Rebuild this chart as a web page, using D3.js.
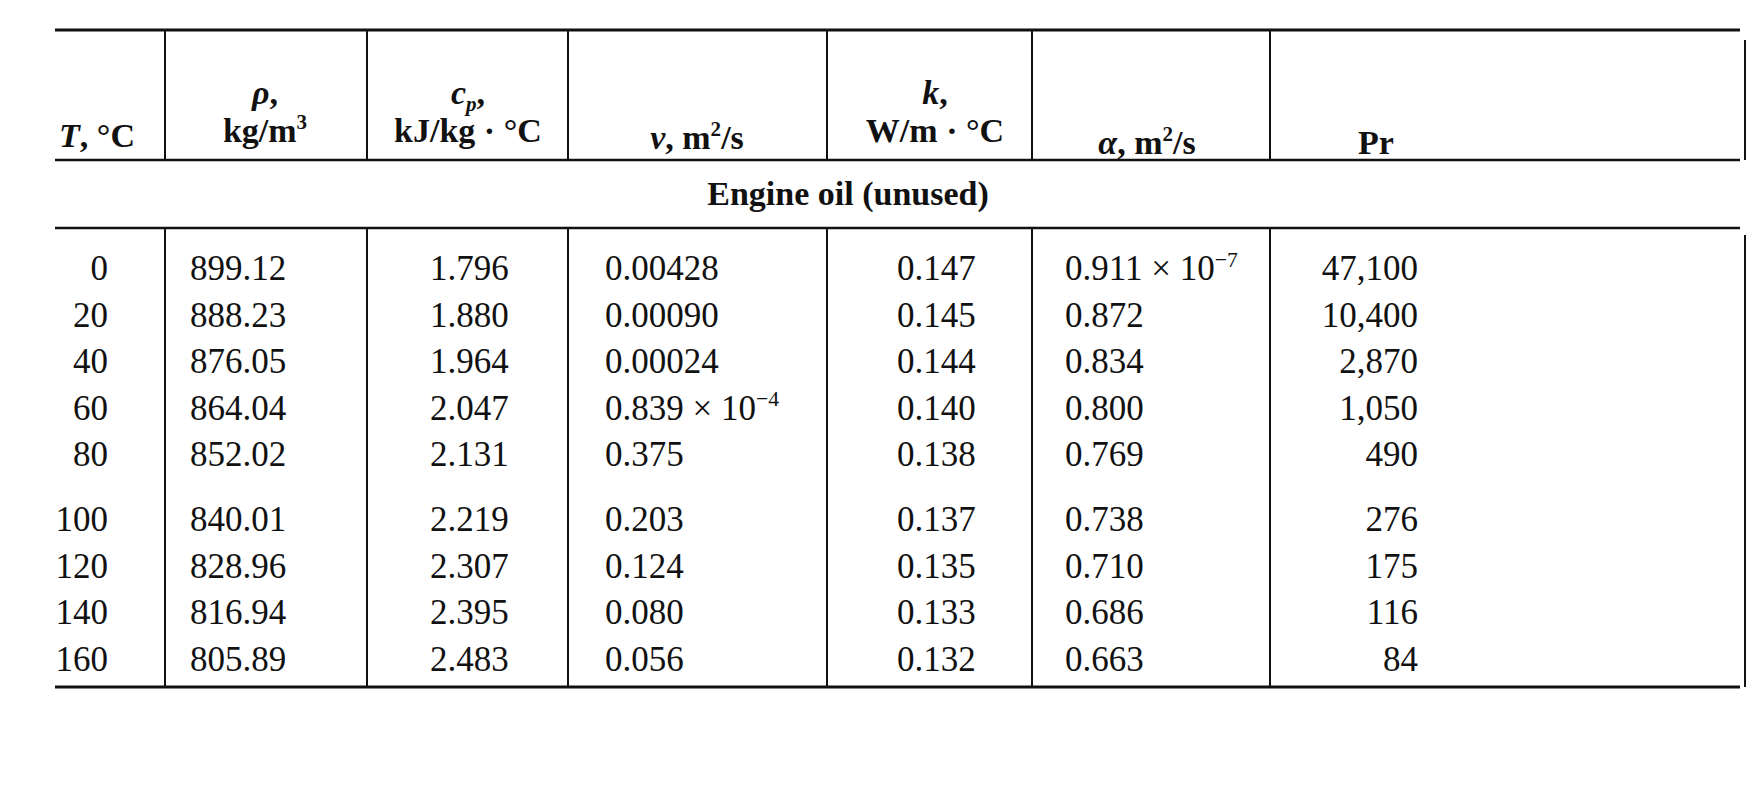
<!DOCTYPE html>
<html><head><meta charset="utf-8">
<script src="https://cdn.jsdelivr.net/npm/d3@7"></script>
<style>body{margin:0;background:#fff}svg{font-family:"Liberation Serif","DejaVu Serif",serif}</style>
</head><body><svg id="c" width="1759" height="803"></svg>
<script>
const temps=["0","20","40","60","80","100","120","140","160"];
const rho=["899.12","888.23","876.05","864.04","852.02","840.01","828.96","816.94","805.89"];
const cp=["1.796","1.880","1.964","2.047","2.131","2.219","2.307","2.395","2.483"];
const nu=[["0.00428"],["0.00090"],["0.00024"],["0.839 × 10","−4"],["0.375"],["0.203"],["0.124"],["0.080"],["0.056"]];
const kval=["0.147","0.145","0.144","0.140","0.138","0.137","0.135","0.133","0.132"];
const alpha=[["0.911 × 10","−7"],["0.872"],["0.834"],["0.800"],["0.769"],["0.738"],["0.710"],["0.686"],["0.663"]];
const pr=["47,100","10,400","2,870","1,050","490","276","175","116","84"];
const sectionTitle="Engine oil (unused)";

const svg=d3.select("#c");
const ink="#111";
const y=d3.scaleLinear().domain([0,1]).range([280,326.5]);
const rowY=i=>y(i+(i>=5?0.4:0));
const fs=35;

const hl=[[55,1740,30,3],[55,1740,160,2.5],[55,1740,228,2.5],[55,1740,687,3]];
hl.forEach(([a,b,yy,w])=>svg.append("line").attr("x1",a).attr("x2",b).attr("y1",yy).attr("y2",yy).attr("stroke",ink).attr("stroke-width",w));
const vx=[165,367,568,827,1032,1270,1745];
vx.forEach(x=>{
  svg.append("line").attr("x1",x).attr("x2",x).attr("y1",x===1745?40:30).attr("y2",160).attr("stroke",ink).attr("stroke-width",2);
  svg.append("line").attr("x1",x).attr("x2",x).attr("y1",x===1745?235:228).attr("y2",687).attr("stroke",ink).attr("stroke-width",2);
});

function txt(x,yy,anchor,parts,opts={}){
  const size=opts.size||fs;
  const t=svg.append("text").attr("x",x).attr("y",yy).attr("text-anchor",anchor)
    .attr("font-size",size).attr("fill",ink).attr("font-weight",opts.bold?"bold":null);
  parts.forEach(p=>{
    const s=t.append("tspan").text(p.t);
    if(p.sup) s.attr("font-size",size*0.62).attr("dy",-size*0.38);
    if(p.sub) s.attr("font-size",size*0.62).attr("dy",size*0.2);
    if(p.after) s.attr("dy",size*0.38);
    if(p.after2) s.attr("dy",-size*0.2);
    if(p.it) s.attr("font-style","italic");
  });
  return t;
}
const hs=34;
txt(97,147,"middle",[{t:"T",it:1},{t:", °C"}],{bold:1,size:hs});
txt(265,104,"middle",[{t:"ρ",it:1},{t:","}],{bold:1,size:hs});
txt(265,142,"middle",[{t:"kg/m"},{t:"3",sup:1}],{bold:1,size:hs});
txt(468,104,"middle",[{t:"c",it:1},{t:"p",sub:1,it:1},{t:",",after2:1}],{bold:1,size:hs});
txt(468,142,"middle",[{t:"kJ/kg · °C"}],{bold:1,size:hs});
txt(697,149,"middle",[{t:"ν",it:1},{t:", m"},{t:"2",sup:1},{t:"/s",after:1}],{bold:1,size:hs});
txt(935,104,"middle",[{t:"k",it:1},{t:","}],{bold:1,size:hs});
txt(935,142,"middle",[{t:"W/m · °C"}],{bold:1,size:hs});
txt(1147,154,"middle",[{t:"α",it:1},{t:", m"},{t:"2",sup:1},{t:"/s",after:1}],{bold:1,size:hs});
txt(1376,154,"middle",[{t:"Pr"}],{bold:1,size:hs});
txt(848,205,"middle",[{t:sectionTitle}],{bold:1,size:hs});

temps.forEach((d,i)=>{
  const yy=rowY(i);
  txt(108,yy,"end",[{t:d}]);
  txt(190,yy,"start",[{t:rho[i]}]);
  txt(430,yy,"start",[{t:cp[i]}]);
  txt(605,yy,"start",nu[i].length>1?[{t:nu[i][0]},{t:nu[i][1],sup:1}]:[{t:nu[i][0]}]);
  txt(897,yy,"start",[{t:kval[i]}]);
  txt(1065,yy,"start",alpha[i].length>1?[{t:alpha[i][0]},{t:alpha[i][1],sup:1}]:[{t:alpha[i][0]}]);
  txt(1418,yy,"end",[{t:pr[i]}]);
});
</script></body></html>
